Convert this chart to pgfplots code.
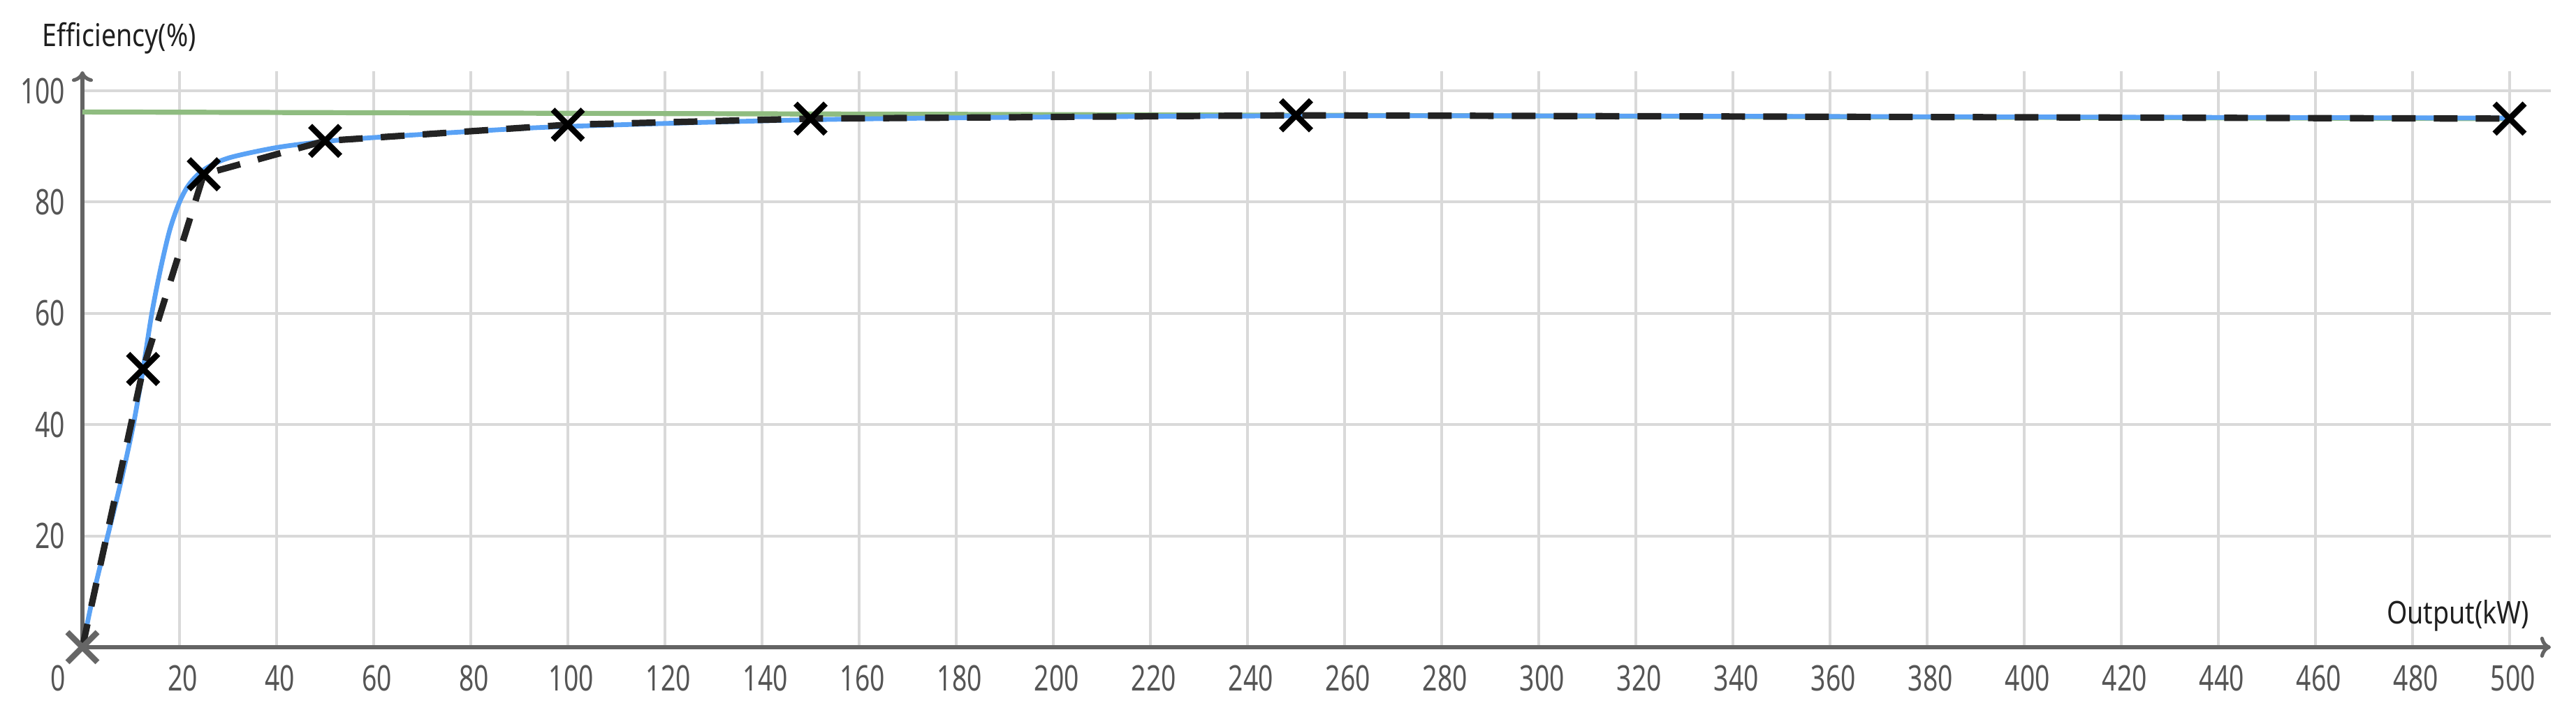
\documentclass[border=0pt]{standalone}
\usepackage{fontspec}
\setmainfont{Noto Sans}
\newfontfamily\tickfont{Noto Sans}[FakeStretch=0.74]
\newfontfamily\labfont{Noto Sans}[FakeStretch=0.84]
\usepackage{pgfplots}
\pgfplotsset{compat=1.18}
\usetikzlibrary{arrows.meta}
\definecolor{gridgray}{RGB}{217,217,217}
\definecolor{axisgray}{RGB}{100,100,100}
\definecolor{ticktext}{RGB}{85,85,85}
\definecolor{effgreen}{RGB}{143,188,128}
\definecolor{effblue}{RGB}{90,162,245}
\definecolor{dashblk}{RGB}{35,35,35}
\begin{document}
\begin{tikzpicture}
\begin{axis}[
  at={(0,0)}, anchor=south west,
  scale only axis, width=883.5pt, height=206.2pt,
  xmin=0, xmax=508.5, ymin=0, ymax=103.5,
  clip=false,
  axis lines=left,
  axis line style={-{To[length=3.8pt,width=7.5pt]}, line width=1.3pt, draw=axisgray},
  major tick length=0pt,
  grid=major,
  major grid style={draw=gridgray, line width=1pt},
  xtick={0,20,...,500},
  xticklabels={{\makebox[0pt][r]{0\hspace{7.25pt}}},20,40,60,80,100,120,140,160,180,200,220,240,260,280,300,320,340,360,380,400,420,440,460,480,500},
  ytick={20,40,60,80,100},
  yticklabels={20,40,60,80,100},
  ticklabel style={font=\tickfont\fontsize{12.6pt}{14pt}\selectfont, text=ticktext, inner sep=0pt},
  xticklabel style={anchor=north, yshift=-6.25pt, xshift=1.2pt},
  yticklabel style={anchor=east, xshift=-6pt},
  xlabel={Output(kW)},
  ylabel={Efficiency(\%)},
  label style={font=\labfont\fontsize{11.2pt}{13pt}\selectfont, text=black!88, inner sep=0pt},
  xlabel style={at={(rel axis cs:1,0)}, anchor=base east, xshift=-7.5pt, yshift=8.25pt},
  ylabel style={rotate=-90, at={(rel axis cs:0,1)}, anchor=base west, xshift=-14.5pt, yshift=8.8pt},
]
% green reference line
\addplot[effgreen, line width=1.8pt] coordinates {(0,96.2) (500,95.0)};
% blue smooth efficiency curve
\addplot[effblue, line width=1.7pt, smooth, tension=0.5] coordinates {
(0,0) (2.4,10) (5.2,20) (8,30) (10.5,40) (12.5,50) (14.3,60) (16.1,68) (18,75) (20,80) (22,83.2) (25,85.8) (30,87.9) (40,89.8) (50,90.9) (60,91.6) (80,92.7) (100,93.6) (150,94.8) (200,95.3) (250,95.5) (300,95.5) (400,95.3) (500,95.1)};
% dashed measured line
\addplot[dashblk, line width=2.3pt, dash pattern=on 8.5pt off 6.5pt] coordinates {
(0,0) (12.5,50) (25,85) (50,91) (100,93.9) (150,95) (250,95.6) (500,95.0)};
% markers
\addplot[only marks, mark=x, mark size=7.6pt, mark options={line width=2.1pt, draw=black}] coordinates {
(12.5,50) (25,85) (50,91) (100,93.9) (150,95) (250,95.6) (500,95.0)};
\addplot[only marks, mark=x, mark size=7.6pt, mark options={line width=2.1pt, draw=black!60}] coordinates {(0,0)};
\end{axis}
\pgfresetboundingbox
\path[use as bounding box] (-29.5pt,-27.5pt) rectangle (892.5pt,231.75pt);
\end{tikzpicture}
\end{document}
